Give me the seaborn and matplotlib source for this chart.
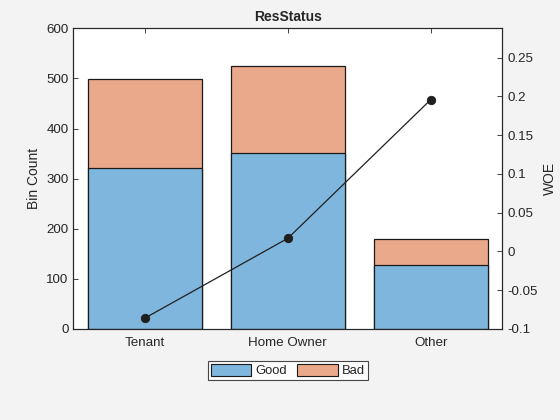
import matplotlib
matplotlib.use("Agg")
import matplotlib.pyplot as plt
import numpy as np
import pandas as pd
import seaborn as sns
from matplotlib.patches import Patch
from matplotlib.ticker import FuncFormatter

# datos
categorias = ["Tenant", "Home Owner", "Other"]
good = [322, 352, 127]
bad = [176, 172, 52]
woe = [-0.086, 0.017, 0.196]

color_good = "#7fb6dd"
color_bad = "#eba98b"
gris = "#262626"

sns.set_style("white")
plt.rcParams["font.family"] = ["Liberation Sans", "DejaVu Sans"]
plt.rcParams["axes.unicode_minus"] = False

df = pd.DataFrame({"cat": categorias, "Good": good, "Bad": bad, "WOE": woe})
df["Total"] = df["Good"] + df["Bad"]

fig = plt.figure(figsize=(5.6, 4.2), dpi=100, facecolor="#f3f3f3")
ax = fig.add_axes([0.131, 0.2167, 0.766, 0.716])
ax.set_facecolor("white")

sns.barplot(data=df, x="cat", y="Total", color=color_bad, saturation=1,
            edgecolor="#1a1a1a", linewidth=0.9, width=0.8, ax=ax)
sns.barplot(data=df, x="cat", y="Good", color=color_good, saturation=1,
            edgecolor="#1a1a1a", linewidth=0.9, width=0.8, ax=ax)

ax.set_xlim(-0.5, 2.5)
ax.set_ylim(0, 600)
ax.set_yticks(range(0, 601, 100))
ax.set_xlabel("")
ax.set_ylabel("Bin Count", fontsize=10, color=gris)
ax.set_title("ResStatus", fontsize=10, fontweight="bold", color=gris, pad=5)

ax2 = ax.twinx()
sns.pointplot(data=df, x="cat", y="WOE", ax=ax2, color="#1f1f1f",
              linewidth=0.9, markersize=6, errorbar=None)
ax2.set_ylim(-0.1, 0.288)
ax2.set_yticks(np.arange(-0.1, 0.26, 0.05))
ax2.yaxis.set_major_formatter(FuncFormatter(lambda v, p: f"{round(v, 3):g}"))
ax2.set_xlim(-0.5, 2.5)
ax2.set_xlabel("")
ax2.set_ylabel("WOE", fontsize=10, color=gris)

for a in (ax, ax2):
    for s in a.spines.values():
        s.set_color(gris)
        s.set_linewidth(0.8)
    a.tick_params(direction="in", length=3.5, width=0.6, colors=gris,
                  labelsize=9.6, top=True)
ax.tick_params(axis="y", right=False)
ax2.tick_params(axis="y", left=False, right=True)
ax.tick_params(axis="x", pad=6)

handles = [Patch(facecolor=color_good, edgecolor="#1a1a1a", linewidth=0.8, label="Good"),
           Patch(facecolor=color_bad, edgecolor="#1a1a1a", linewidth=0.8, label="Bad")]
leg = ax.legend(handles=handles, loc="upper center", bbox_to_anchor=(0.5, -0.105),
                ncol=2, fontsize=9.4, frameon=True, fancybox=False,
                handlelength=3.1, handleheight=1.0, handletextpad=0.3,
                columnspacing=0.8, borderpad=0.25, borderaxespad=0)
leg.get_frame().set_edgecolor("#1a1a1a")
leg.get_frame().set_linewidth(0.8)
for t in leg.get_texts():
    t.set_color(gris)

fig.savefig("out.png", dpi=100, facecolor=fig.get_facecolor())
